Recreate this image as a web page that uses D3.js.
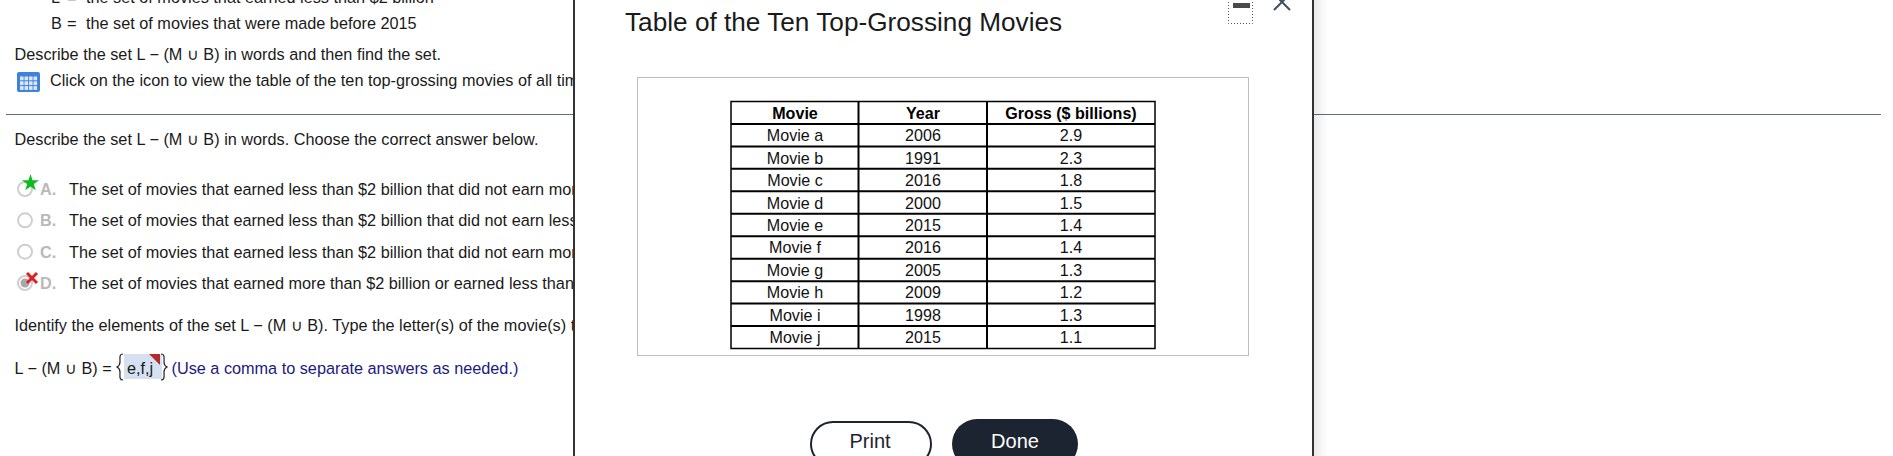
<!DOCTYPE html>
<html>
<head>
<meta charset="utf-8">
<style>
html, body { margin: 0; padding: 0; background: #fff; overflow: hidden; }
text { font-family: "Liberation Sans", Arial, sans-serif; font-size: 16.25px; fill: #1a1a1a; }
</style>
<script src="https://cdnjs.cloudflare.com/ajax/libs/d3/7.8.5/d3.min.js"></script>
</head>
<body>
<svg id="chart"></svg>
<script>
var width = 1893,
    height = 456;

// table data
var columns = ["Movie", "Year", "Gross ($ billions)"];
var movies = ["Movie a", "Movie b", "Movie c", "Movie d", "Movie e", "Movie f", "Movie g", "Movie h", "Movie i", "Movie j"];
var years = ["2006", "1991", "2016", "2000", "2015", "2016", "2005", "2009", "1998", "2015"];
var gross = ["2.9", "2.3", "1.8", "1.5", "1.4", "1.4", "1.3", "1.2", "1.3", "1.1"];

// question text behind the dialog
var optionLetters = ["A.", "B.", "C.", "D."];
var optionTexts = [
  "The set of movies that earned less than $2 billion that did not earn more",
  "The set of movies that earned less than $2 billion that did not earn less",
  "The set of movies that earned less than $2 billion that did not earn more",
  "The set of movies that earned more than $2 billion or earned less than $1"
];

var svg = d3.select("#chart")
    .attr("width", width)
    .attr("height", height)
    .style("display", "block");

var defs = svg.append("defs");
var shadow = defs.append("linearGradient").attr("id", "shadow");
shadow.append("stop").attr("offset", "0").attr("stop-color", "#000").attr("stop-opacity", 0.08);
shadow.append("stop").attr("offset", "1").attr("stop-color", "#000").attr("stop-opacity", 0);

function label(g, x, y, str, size, color, anchor, weight) {
  return g.append("text")
      .attr("x", x)
      .attr("y", y)
      .attr("text-anchor", anchor || "start")
      .style("font-size", (size || 16.25) + "px")
      .style("fill", color || "#1a1a1a")
      .style("font-weight", weight || "normal")
      .text(str);
}

//Page behind the dialog
var page = svg.append("g");

label(page, 51, 3, "L");
label(page, 67, 3, "=");
label(page, 86, 3, "the set of movies that earned less than $2 billion");
label(page, 51, 29, "B");
label(page, 67, 29, "=");
label(page, 86, 29, "the set of movies that were made before 2015");
label(page, 14.5, 60, "Describe the set L \u2212 (M \u222A B) in words and then find the set.");
label(page, 50, 86, "Click on the icon to view the table of the ten top-grossing movies of all time.");

// table icon
page.append("rect").attr("x", 17).attr("y", 72).attr("width", 23).attr("height", 20).attr("rx", 2).attr("fill", "#3d82dc");
d3.range(3).forEach(function(r) {
  d3.range(4).forEach(function(c) {
    page.append("rect")
        .attr("x", 20 + c * 4.5).attr("y", 76.5 + r * 4.8)
        .attr("width", 3.6).attr("height", 3.8)
        .attr("fill", "#dce8f9");
  });
});

page.append("line").attr("x1", 6).attr("x2", 1881).attr("y1", 114.5).attr("y2", 114.5)
    .attr("stroke", "#5f6c7b").attr("stroke-width", 1);

label(page, 14.5, 144.5, "Describe the set L \u2212 (M \u222A B) in words. Choose the correct answer below.");

// answer options
var optionY = d3.scalePoint().domain(optionLetters).range([195, 289]);

var options = page.selectAll(".option")
    .data(optionLetters)
    .enter().append("g")
    .attr("class", "option")
    .attr("transform", function(d) { return "translate(0," + optionY(d) + ")"; });

options.append("circle")
    .attr("cx", 25).attr("cy", -6).attr("r", 7)
    .attr("fill", "#fff").attr("stroke", "#cfcfcf").attr("stroke-width", 2);

options.filter(function(d) { return d === "D."; }).append("circle")
    .attr("cx", 25).attr("cy", -6).attr("r", 4.5).attr("fill", "#a9a9a9");

options.append("text")
    .attr("x", 40)
    .style("font-weight", "bold")
    .style("fill", "#b9b9b9")
    .text(function(d) { return d; });

options.append("text")
    .attr("x", 69)
    .text(function(d, i) { return optionTexts[i]; });

// right / wrong markers
page.append("path")
    .attr("d", d3.symbol().type(d3.symbolStar).size(90)())
    .attr("transform", "translate(30.5,183)")
    .attr("fill", "#0dbb1c");
page.append("path")
    .attr("d", "M27,273 L37,283 M37,273 L27,283")
    .attr("stroke", "#e02020").attr("stroke-width", 3).attr("fill", "none");

label(page, 14.5, 331, "Identify the elements of the set L \u2212 (M \u222A B). Type the letter(s) of the movie(s) that are in the set.");

// answer line
label(page, 14.5, 373.5, "L \u2212 (M \u222A B) =");
page.append("rect").attr("x", 124).attr("y", 354).attr("width", 38).attr("height", 25).attr("fill", "#d5e0f0");
page.append("path").attr("d", "M149,354 L160,354 L160,365 Z").attr("fill", "#b5282b");
page.append("path")
    .attr("d", "M123,354 C119,354 120,358 120,362 C120,365 119,366 117,367 C119,368 120,369 120,372 C120,376 119,380 123,380")
    .attr("fill", "none").attr("stroke", "#222").attr("stroke-width", 1.2);
page.append("path")
    .attr("d", "M161,354 C165,354 164,358 164,362 C164,365 165,366 167,367 C165,368 164,369 164,372 C164,376 165,380 161,380")
    .attr("fill", "none").attr("stroke", "#222").attr("stroke-width", 1.2);
label(page, 127, 373.5, "e,f,j");
label(page, 171.5, 373.5, "(Use a comma to separate answers as needed.)", 16.25, "#1a1a80");

//Dialog
var dialog = svg.append("g");

dialog.append("rect").attr("x", 1314).attr("y", 0).attr("width", 14).attr("height", height).attr("fill", "url(#shadow)");
dialog.append("rect").attr("x", 574).attr("y", -5).attr("width", 739).attr("height", height + 10)
    .attr("fill", "#fff").attr("stroke", "#333").attr("stroke-width", 2);

label(dialog, 625, 31, "Table of the Ten Top-Grossing Movies", 26.2, "#1a1a1a");

// minimize and close
dialog.append("rect").attr("x", 1228.5).attr("y", -4).attr("width", 24).attr("height", 27.5)
    .attr("fill", "none").attr("stroke", "#555").attr("stroke-dasharray", "1,2");
dialog.append("rect").attr("x", 1233).attr("y", 3).attr("width", 17).attr("height", 5).attr("fill", "#4a4a4a");
dialog.append("path").attr("d", "M1274,10 L1289,-5 M1290,10 L1275,-5")
    .attr("stroke", "#3f4d5c").attr("stroke-width", 2).attr("fill", "none");

// table frame
dialog.append("rect").attr("x", 637.5).attr("y", 77.5).attr("width", 611).attr("height", 278)
    .attr("fill", "#fff").attr("stroke", "#bdbdbd").attr("stroke-width", 1);

//Table scales
var rowNames = ["header"].concat(movies);
var yRow = d3.scaleBand().domain(rowNames).range([101.5, 348.5]);
var colEdges = [731, 858.5, 987, 1155];
var xCol = d3.scaleOrdinal().domain(columns).range([795, 923, 1071]);

var tableData = movies.map(function(m, i) {
  return { row: m, cells: [m, years[i], gross[i]] };
});

var table = dialog.append("g");

table.selectAll(".hrule")
    .data(rowNames.slice(1))
    .enter().append("line")
    .attr("class", "hrule")
    .attr("x1", colEdges[0]).attr("x2", colEdges[3])
    .attr("y1", function(d) { return yRow(d); })
    .attr("y2", function(d) { return yRow(d); })
    .attr("stroke", "#000").attr("stroke-width", 2);

table.selectAll(".vrule")
    .data(colEdges.slice(1, 3))
    .enter().append("line")
    .attr("class", "vrule")
    .attr("x1", function(d) { return d; }).attr("x2", function(d) { return d; })
    .attr("y1", yRow.range()[0]).attr("y2", yRow.range()[1])
    .attr("stroke", "#000").attr("stroke-width", 2);

table.append("rect")
    .attr("x", colEdges[0]).attr("y", yRow.range()[0])
    .attr("width", colEdges[3] - colEdges[0]).attr("height", yRow.range()[1] - yRow.range()[0])
    .attr("fill", "none").attr("stroke", "#000").attr("stroke-width", 1.5);

table.selectAll(".head")
    .data(columns)
    .enter().append("text")
    .attr("class", "head")
    .attr("x", function(d) { return xCol(d); })
    .attr("y", yRow("header") + yRow.bandwidth() / 2 + 6)
    .attr("text-anchor", "middle")
    .style("font-size", "16.1px")
    .style("font-weight", "bold")
    .style("fill", "#000")
    .text(function(d) { return d; });

var rows = table.selectAll(".row")
    .data(tableData)
    .enter().append("g")
    .attr("class", "row")
    .attr("transform", function(d) { return "translate(0," + (yRow(d.row) + yRow.bandwidth() / 2 + 6) + ")"; });

rows.selectAll("text")
    .data(function(d) { return d.cells; })
    .enter().append("text")
    .attr("x", function(d, i) { return xCol(columns[i]); })
    .attr("text-anchor", "middle")
    .style("font-size", "16.1px")
    .style("fill", "#111")
    .text(function(d) { return d; });

//Buttons
dialog.append("rect").attr("x", 811).attr("y", 422).attr("width", 120).attr("height", 44).attr("rx", 22)
    .attr("fill", "#fff").attr("stroke", "#1c2331").attr("stroke-width", 2);
label(dialog, 870, 448, "Print", 20, "#1c2331", "middle");
dialog.append("rect").attr("x", 952).attr("y", 419).attr("width", 126).attr("height", 50).attr("rx", 25)
    .attr("fill", "#1c2331");
label(dialog, 1015, 448, "Done", 20, "#fff", "middle");
</script>
</body>
</html>
